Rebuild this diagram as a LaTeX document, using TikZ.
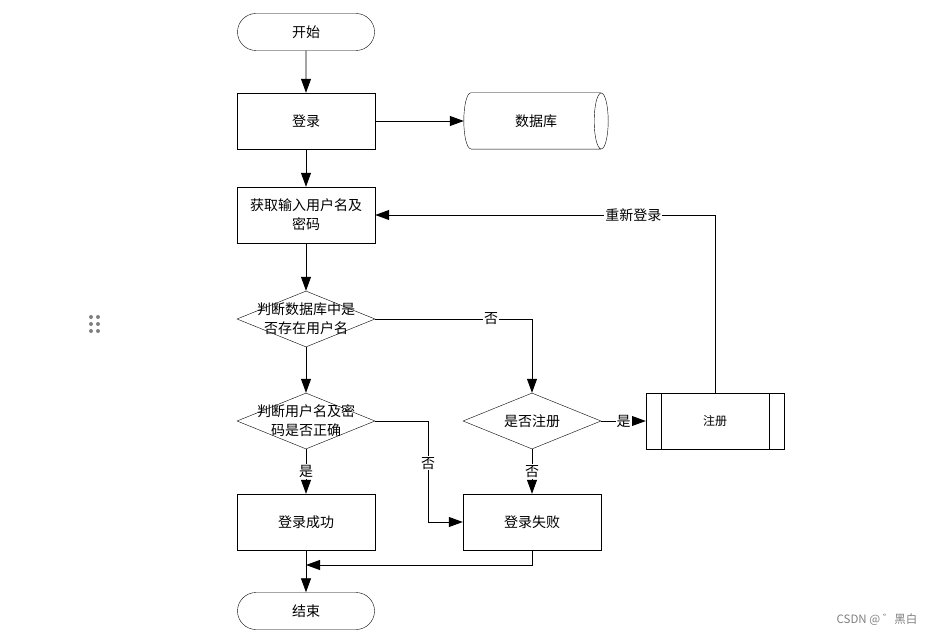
\documentclass[tikz,border=0pt]{standalone}
\usepackage{fontspec}
\setmainfont{Noto Sans CJK SC}
\usetikzlibrary{positioning, arrows.meta, shapes.geometric, shapes.misc}

\begin{document}
\begin{tikzpicture}[x=1pt, y=-1pt,
    % Styles
    every node/.style={font=\fontsize{14}{19}\selectfont},
    terminal/.style={draw, rounded rectangle, minimum width=137pt, minimum height=37pt, inner sep=0pt},
    process/.style={draw, rectangle, minimum width=138pt, minimum height=56pt, align=center, inner sep=0pt},
    decision/.style={draw, diamond, minimum width=138pt, minimum height=56pt, inner sep=0pt},
    subproc/.style={process, path picture={
        \draw ([xshift=15pt]path picture bounding box.north west) -- ([xshift=15pt]path picture bounding box.south west);
        \draw ([xshift=-15pt]path picture bounding box.north east) -- ([xshift=-15pt]path picture bounding box.south east);}},
    store/.style={rectangle, minimum width=144pt, minimum height=56pt, inner sep=0pt},
    arrow/.style={-{Triangle[length=14pt, width=10pt]}, line width=0.8pt},
    lbl/.style={fill=white, inner sep=1pt},
]
\useasboundingbox (0,0) rectangle (936,636);

% Start and login
\node[terminal] (start) at (306,32) {开始};
\node[process] (login) at (306,121) {登录};
\node[store] (db) at (536,121) {数据库};
\draw ([xshift=7pt]db.north west) -- ([xshift=-7pt]db.north east)
      ([xshift=7pt]db.south west) -- ([xshift=-7pt]db.south east)
      ([xshift=-7pt]db.east) ellipse [x radius=7pt, y radius=28pt]
      ([xshift=7pt]db.north west) arc [start angle=90, end angle=270, x radius=7pt, y radius=28pt];
\draw[arrow] (start) -- (login);
\draw[arrow] (login) -- (db);

% Input
\node[process] (input) at (306,215) {获取输入用户名及\\密码};
\draw[arrow] (login) -- (input);

% Checks
\node[decision, label={[align=center]center:判断数据库中是\\否存在用户名}] (check1) at (306,319) {};
\node[decision, label={[align=center]center:判断用户名及密\\码是否正确}] (check2) at (306,421) {};
\node[decision, label={center:是否注册}] (reg) at (532,421) {};
\node[subproc, font=\fontsize{12}{14}\selectfont] (sub) at (715,421) {注册};
\draw[arrow] (input) -- (check1);
\draw[arrow] (check1) -- (check2);
\draw[arrow] (check1.east) -| node[lbl, pos=0.37] {否} (reg.north);
\draw[arrow] (reg) -- node[lbl] {是} (sub);
\draw[arrow] (sub.north) |- node[lbl, pos=0.62] {重新登录} (input.east);

% Results
\node[process] (ok) at (306,522) {登录成功};
\node[process] (fail) at (532,522) {登录失败};
\draw[arrow] (check2) -- node[lbl] {是} (ok);
\draw[arrow] (check2.east) -- ++(53,0) |- node[lbl, pos=0.21] {否} (fail.west);
\draw[arrow] (reg) -- node[lbl] {否} (fail);

% End
\node[terminal] (end) at (306,611) {结束};
\coordinate (join) at (306,565);
\draw[arrow] (fail.south) |- (join);
\draw[arrow] (ok) -- (end);

% Handle and watermark
\foreach \dx in {91,98} \foreach \dy in {317,324,331}
    \fill[gray] (\dx,\dy) circle (2pt);
\node[gray, font=\fontsize{11.5}{14}\selectfont] (mark) at (877,620) {CSDN @ ゛黑白};
\end{tikzpicture}
\end{document}
